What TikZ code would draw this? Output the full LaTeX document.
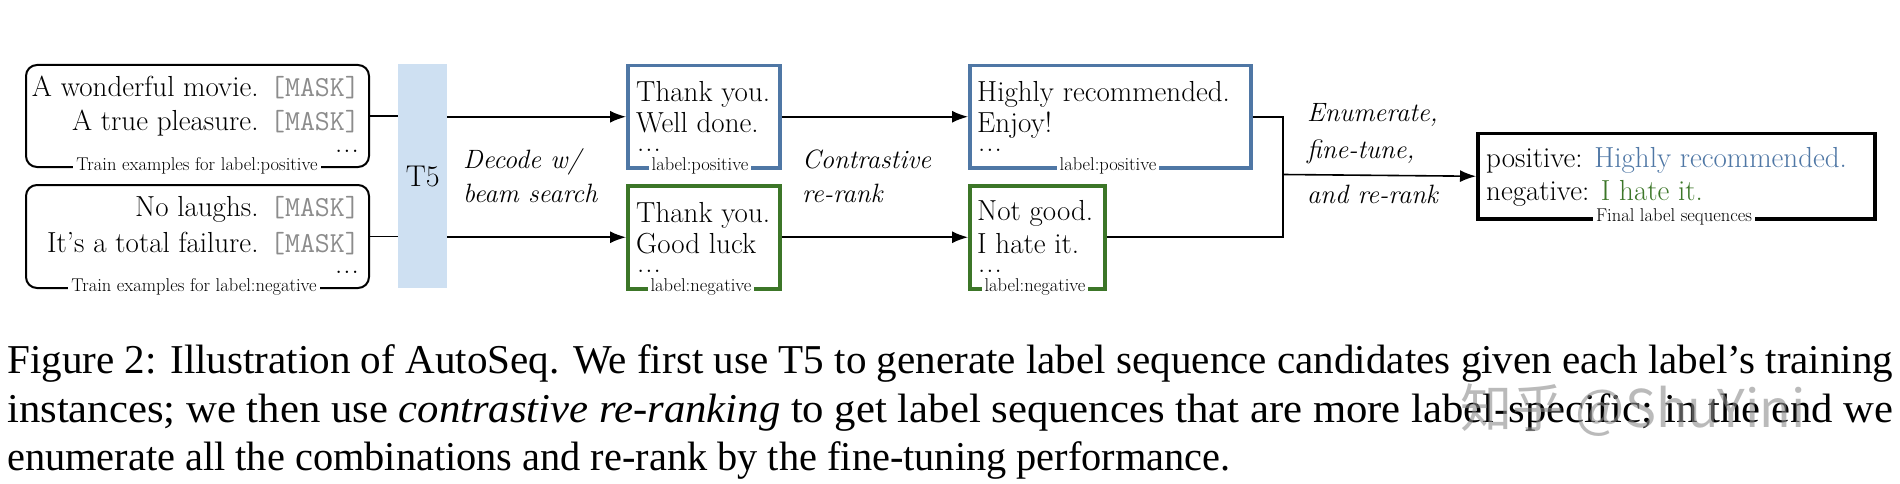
\documentclass[tikz,border=0pt]{standalone}
\usepackage{fontspec}
\newfontfamily\capfont{Liberation Serif}
\newfontfamily\cjkfont{Noto Sans CJK SC}
\usetikzlibrary{arrows.meta}
\definecolor{posblue}{RGB}{79,119,165}
\definecolor{neggreen}{RGB}{60,118,40}
\definecolor{tfill}{RGB}{206,224,242}
\definecolor{maskgray}{RGB}{140,140,140}
\newlength\capwa
\newlength\capwb
\newcommand\mymask{{\ttfamily\color{maskgray}[MASK]}}
\newcommand\mydots{.\kern1pt.\kern1pt.}
\newcommand\capA{Figure 2: Illustration of AutoSeq. We first use T5 to generate label sequence candidates given each label’s training}
\newcommand\capB{instances; we then use \textit{contrastive re-ranking} to get label sequences that are more label-specific; in the end we}
\newcommand\capC{enumerate all the combinations and re-rank by the fine-tuning performance.}
\AtBeginDocument{%
  \settowidth\capwa{\capfont\fontsize{41pt}{49pt}\selectfont\capA}%
  \settowidth\capwb{\capfont\fontsize{41pt}{49pt}\selectfont\capB}%
  \pgfmathsetmacro\sxa{1886/\the\capwa}%
  \pgfmathsetmacro\sxb{1886/\the\capwb}%
  \pgfmathsetmacro\sxc{0.982*\sxa}%
}
\tikzset{
  rbox/.style={draw, line width=2pt, rounded corners=11pt, inner sep=0, anchor=north west},
  cbox/.style={draw=#1, line width=3.5pt, inner sep=0, anchor=north west},
  tbox/.style={fill=tfill, inner sep=0, anchor=north west},
  txt/.style={font=\fontsize{29pt}{34pt}\selectfont, inner sep=0},
  itl/.style={font=\fontsize{26.5pt}{30pt}\selectfont\itshape, inner sep=0, anchor=base west},
  lab/.style={font=\fontsize{18.5pt}{21pt}\selectfont, fill=white, inner xsep=3pt, inner ysep=1pt},
  conn/.style={line width=1.6pt},
  arr/.style={line width=1.6pt, -{Latex[length=16pt,width=12pt]}},
  capt/.style={font=\capfont\fontsize{41pt}{49pt}\selectfont, inner sep=0, anchor=base west},
}
\begin{document}
\begin{tikzpicture}[x=1pt,y=-1pt]
\useasboundingbox (0,0) rectangle (1900,484);
% frames
\node[rbox, minimum width=343, minimum height=102] (pos) at (25,64) {};
\node[rbox, minimum width=343, minimum height=103] (neg) at (25,184) {};
\node[tbox, minimum width=49, minimum height=224, font=\fontsize{30pt}{34pt}\selectfont] (t5) at (398,64) {T5};
\node[cbox=posblue, minimum width=152, minimum height=102] (b1) at (626,64) {};
\node[cbox=neggreen, minimum width=152, minimum height=103] (g1) at (626,184) {};
\node[cbox=posblue, minimum width=281, minimum height=102] (b2) at (968,64) {};
\node[cbox=neggreen, minimum width=135, minimum height=103] (g2) at (968,184) {};
\node[cbox=black, minimum width=397, minimum height=85] (fin) at (1476,132) {};
% texts in the training boxes
\node[txt, anchor=base east] (p1) at (360,97) {A wonderful movie. \mymask};
\node[txt, anchor=base east] (p2) at (360,131) {A true pleasure. \mymask};
\node[txt, anchor=base east] (p3) at (359,152) {\mydots};
\node[txt, anchor=base east] (n1) at (360,216) {No laughs. \mymask};
\node[txt, anchor=base east] (n2) at (360,252) {It’s a total failure. \mymask};
\node[txt, anchor=base east] (n3) at (359,273) {\mydots};
% candidate boxes
\node[txt, anchor=base west] (b1a) at (636,102) {Thank you.};
\node[txt, anchor=base west] (b1b) at (636,132) {Well done.};
\node[txt, anchor=base west] (b1c) at (637,151) {\mydots};
\node[txt, anchor=base west] (g1a) at (636,222) {Thank you.};
\node[txt, anchor=base west] (g1b) at (636,253) {Good luck};
\node[txt, anchor=base west] (g1c) at (637,272) {\mydots};
\node[txt, anchor=base west] (b2a) at (977,102) {Highly recommended.};
\node[txt, anchor=base west] (b2b) at (977,132) {Enjoy!};
\node[txt, anchor=base west] (b2c) at (978,151) {\mydots};
\node[txt, anchor=base west] (g2a) at (977,220) {Not good.};
\node[txt, anchor=base west] (g2b) at (977,253) {I hate it.};
\node[txt, anchor=base west] (g2c) at (978,272) {\mydots};
\node[txt, anchor=base west] (f1) at (1486,167) {positive: {\color{posblue}Highly recommended.}};
\node[txt, anchor=base west] (f2) at (1486,200) {negative: {\color{neggreen}I hate it.}};
% frame labels
\node[lab] (posl) at (197,166) {Train examples for label:positive};
\node[lab] (negl) at (194,287) {Train examples for label:negative};
\node[lab] (b1l) at (700,166) {label:positive};
\node[lab] (g1l) at (701,287) {label:negative};
\node[lab] (b2l) at (1108,166) {label:positive};
\node[lab] (g2l) at (1035,287) {label:negative};
\node[lab] (finl) at (1674,217) {Final label sequences};
% step labels
\node[itl] (d1) at (463,168) {Decode w/};
\node[itl] (d2) at (463,202) {beam search};
\node[itl] (c1) at (802,168) {Contrastive};
\node[itl] (c2) at (802,202) {re-rank};
\node[itl] (e1) at (1307,122) {Enumerate,};
\node[itl] (e2) at (1307,158) {fine-tune,};
\node[itl] (e3) at (1307,203) {and re-rank};
% connectors
\coordinate (j) at (1283,174.5);
\draw[conn] (pos.east) -- (t5.west |- pos.east);
\draw[conn] (neg.east) -- (t5.west |- neg.east);
\draw[arr] (t5.east |- b1.west) -- (b1.west);
\draw[arr] (t5.east |- g1.west) -- (g1.west);
\draw[arr] (b1.east) -- (b2.west);
\draw[arr] (g1.east) -- (g2.west);
\draw[conn] (b2.east) -| (j);
\draw[conn] (g2.east) -| (j);
\draw[arr] (j) -- (fin.west);
% caption
\node[capt] (cap1) at (7,373) {\scalebox{\sxa}[1]{\capA}};
\node[capt] (cap2) at (7,422) {\scalebox{\sxb}[1]{\capB}};
\node[capt] (cap3) at (7,470) {\scalebox{\sxc}[1]{\capC}};
% watermark
\node[anchor=base west, inner sep=0, font=\cjkfont\fontsize{52pt}{60pt}\selectfont, text=black!45, opacity=0.6] (wm) at (1460,427) {知乎 @ShuYini};
\end{tikzpicture}
\end{document}
